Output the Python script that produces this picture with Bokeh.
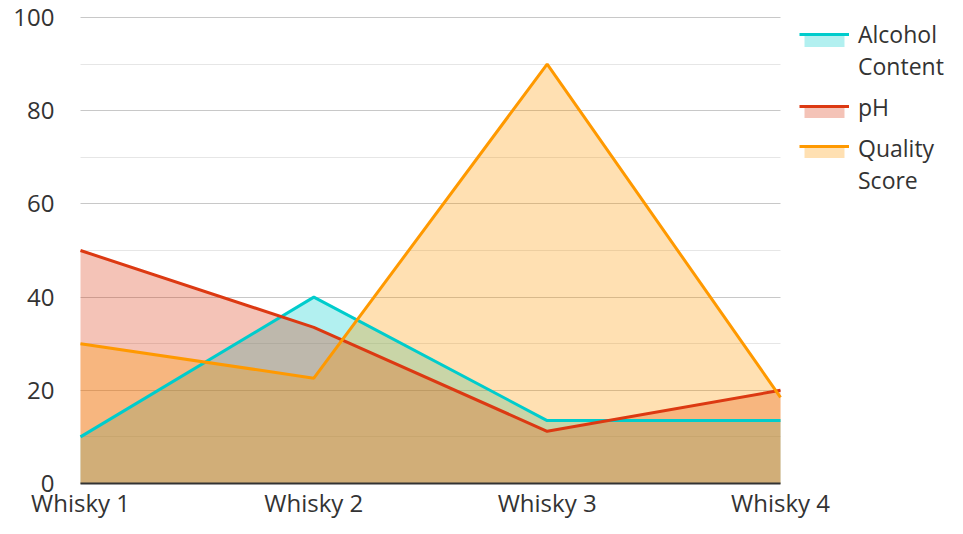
from bokeh.plotting import figure
from bokeh.models import FixedTicker, Legend, LegendItem, ColumnDataSource
from bokeh.embed import file_html
from bokeh.resources import INLINE

categories = ["Whisky 1", "Whisky 2", "Whisky 3", "Whisky 4"]
alcohol_content = [10, 40, 13.5, 13.5]
ph = [50, 33.5, 11.2, 20]
quality_score = [30, 22.6, 90, 18.5]
series_labels = ["Alcohol\nContent", "pH", "Quality\nScore"]
series_colors = ["#00CCCC", "#DC3912", "#FF9900"]
y_major_ticks = [0, 20, 40, 60, 80, 100]
y_minor_ticks = [10, 30, 50, 70, 90]

xs = list(range(len(categories)))
src = ColumnDataSource(dict(x=xs, zero=[0] * len(xs), a=alcohol_content, p=ph, q=quality_score))

FONT = "Open Sans"
TXT = "#333333"

# the plotting frame covers the whole canvas; axes are drawn at x = 0 and y = 0
W, H = 947, 518
LEFT_PX, RIGHT_PX, TOP_PX, ZERO_PX = 80, 780, 17, 483
n = len(categories) - 1
x_per_px = n / (RIGHT_PX - LEFT_PX)
y_per_px = 100 / (ZERO_PX - TOP_PX)
x_range = (-LEFT_PX * x_per_px, n + (W - RIGHT_PX) * x_per_px)
y_range = (-(H - ZERO_PX) * y_per_px, 100 + TOP_PX * y_per_px)

p = figure(width=W, height=H, x_range=x_range, y_range=y_range,
           output_backend="svg", toolbar_location=None, min_border=0)
p.outline_line_color = None

cols = ["a", "p", "q"]
areas = []
for c, col in zip(cols, series_colors):
    areas.append(p.varea(x="x", y1="zero", y2=c, source=src, fill_color=col, fill_alpha=0.3))
lines = []
for c, col in zip(cols, series_colors):
    lines.append(p.line(x="x", y=c, source=src, line_color=col, line_width=3))

# x axis at y = 0
xa = p.xaxis[0]
xa.fixed_location = 0
xa.bounds = (0, n)
xa.ticker = FixedTicker(ticks=xs)
xa.major_label_overrides = {i: c for i, c in enumerate(categories)}
xa.major_tick_line_color = None
xa.major_tick_out = 0
xa.major_tick_in = 0
xa.minor_tick_line_color = None
xa.minor_tick_out = 0
xa.axis_line_color = "#333333"
xa.axis_line_width = 2
xa.major_label_standoff = 2
xa.major_label_text_font = FONT
xa.major_label_text_font_size = "24px"
xa.major_label_text_color = TXT

# y axis at x = 0
ya = p.yaxis[0]
ya.fixed_location = 0
ya.bounds = (0, 100)
ya.ticker = FixedTicker(ticks=y_major_ticks, minor_ticks=y_minor_ticks)
ya.major_tick_line_color = None
ya.major_tick_out = 0
ya.major_tick_in = 0
ya.minor_tick_line_color = None
ya.minor_tick_out = 0
ya.axis_line_color = None
ya.major_label_standoff = 26
ya.major_label_text_font = FONT
ya.major_label_text_font_size = "24px"
ya.major_label_text_color = TXT

p.xgrid.grid_line_color = None
yg = p.ygrid[0]
yg.ticker = FixedTicker(ticks=y_major_ticks, minor_ticks=y_minor_ticks)
yg.cross_bounds = (0, n)
yg.grid_line_color = "#c8c8c8"
yg.minor_grid_line_color = "#e6e6e6"

# ---- legend: a text block, plus one glyph block per entry at its first line
LFS = 23
LLH = 1.36
L = LFS * LLH
SP = 9
TEXT_X = 858
GLYPH_X = 799
FIRST_LINE_C = 37
t_top = FIRST_LINE_C - L / 2
t_height = 5 * L + 2 * SP
first_line_centres = [FIRST_LINE_C, FIRST_LINE_C + 2 * L + SP, FIRST_LINE_C + 3 * L + 2 * SP]

def base_legend(items, loc):
    lg = Legend(items=items, location=loc)
    lg.label_text_font = FONT
    lg.label_text_font_size = f"{LFS}px"
    lg.label_text_line_height = LLH
    lg.label_text_color = TXT
    lg.spacing = SP
    lg.padding = 0
    lg.margin = 0
    lg.border_line_color = None
    lg.background_fill_alpha = 0
    lg.label_height = 10
    return lg

text_items = [LegendItem(label=lab, renderers=[r]) for lab, r in zip(series_labels, areas)]
tl = base_legend(text_items, (TEXT_X, H - (t_top + t_height)))
tl.glyph_width = 0
tl.glyph_height = 1
tl.label_standoff = 0
p.add_layout(tl, "center")

BOX = 40
def glyph_legend(renderer, gh, centre):
    lg = base_legend([LegendItem(label=" ", renderers=[renderer])], (GLYPH_X, H - (centre + BOX / 2)))
    lg.glyph_width = 50
    lg.glyph_height = gh
    lg.label_height = BOX
    lg.label_standoff = 0
    lg.label_text_alpha = 0
    return lg

for a, l, c in zip(areas, lines, first_line_centres):
    top = c - 4.5
    p.add_layout(glyph_legend(a, 15, top + 7.5), "center")
    p.add_layout(glyph_legend(l, 4, top + 1.5), "center")

open("out.html", "w").write(file_html(p, INLINE))
